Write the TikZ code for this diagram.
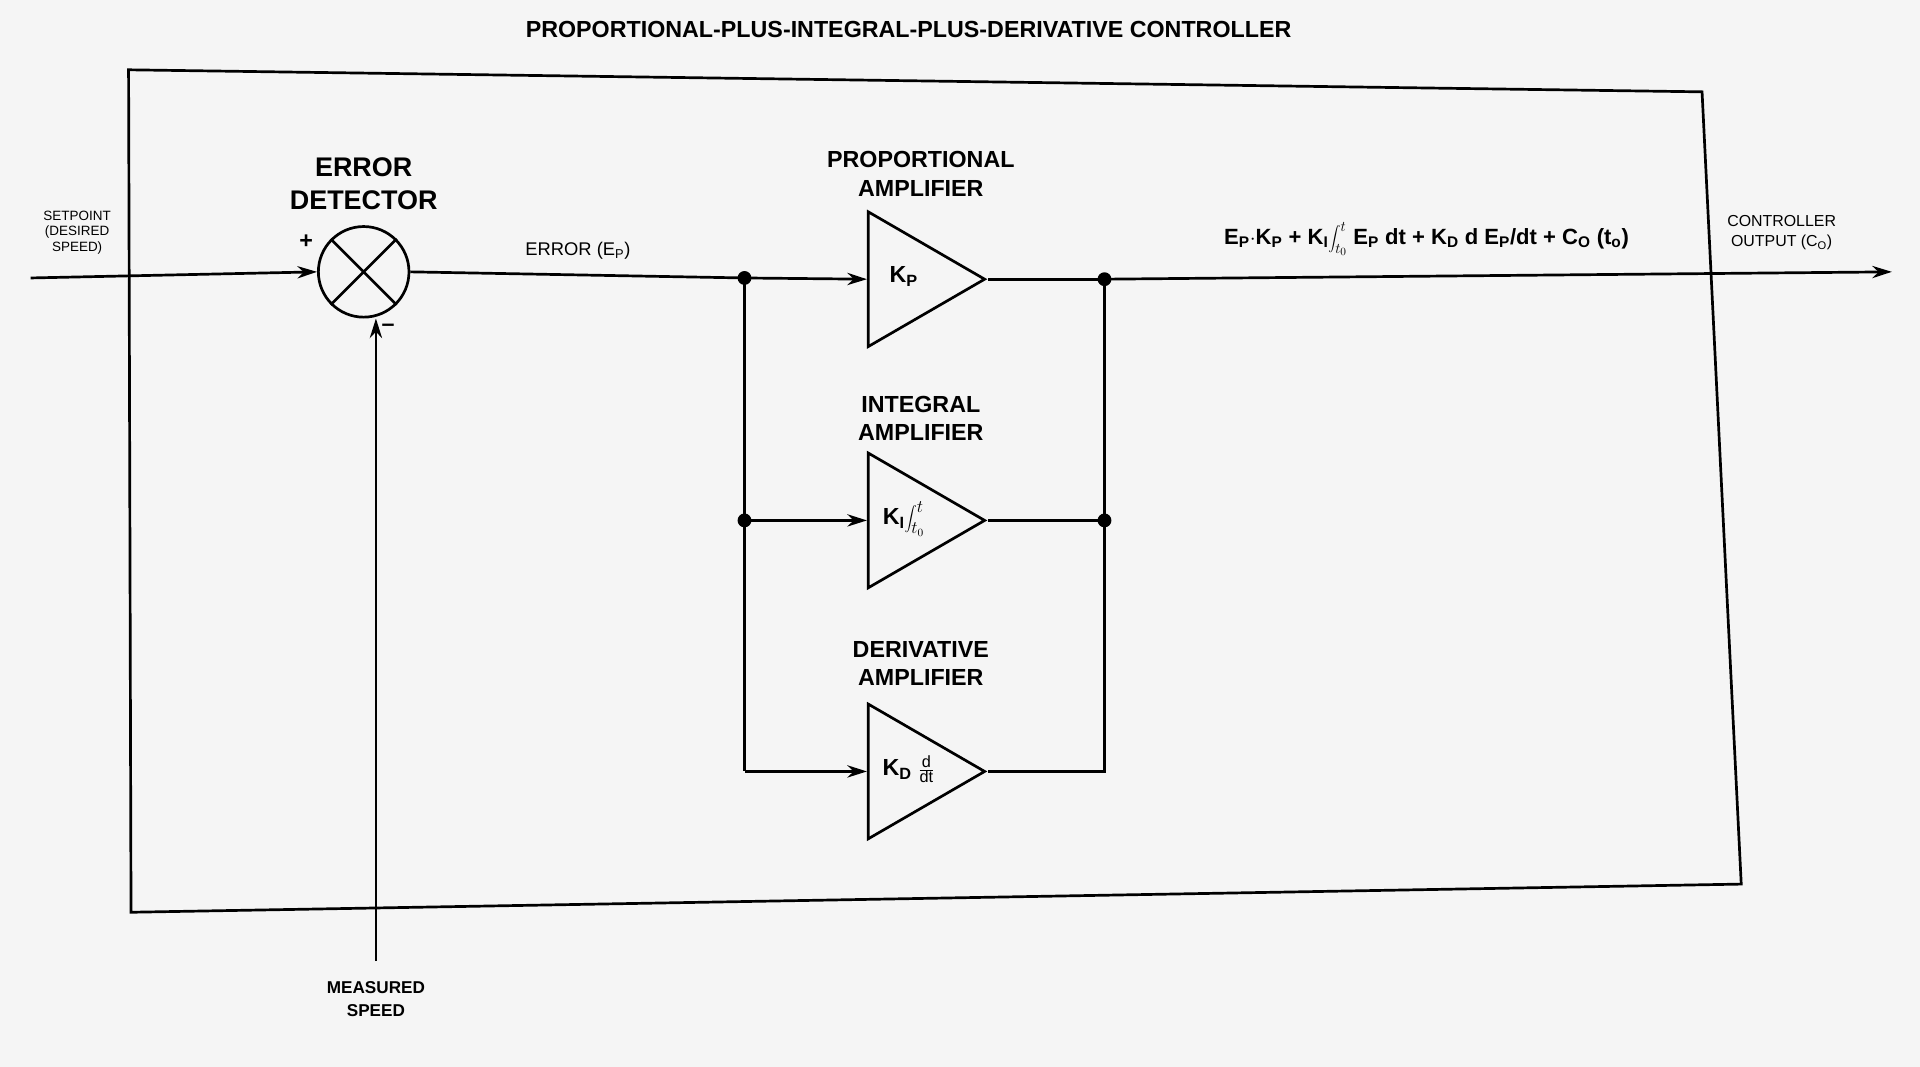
\documentclass[tikz,border=0pt]{standalone}
\usepackage{fontspec}
\setmainfont{Liberation Sans}
\usetikzlibrary{arrows.meta,shapes.geometric}
\begin{document}
\begin{tikzpicture}[x=1pt,y=-1pt,line width=2.2pt,
  lbl/.style={font=\bfseries\fontsize{19}{23}\selectfont,align=center,inner sep=0},
  sml/.style={font=\fontsize{11}{13}\selectfont,align=center,inner sep=0},
  amp/.style={isosceles triangle,draw,minimum height=95pt,minimum width=110pt,isosceles triangle stretches,inner sep=0,anchor=west},
  arr/.style={-{Stealth[length=16pt,width=10pt]}},
  dot/.style={circle,fill,inner sep=4pt}]
\fill[gray!8] (0,0) rectangle (1568,871);
\useasboundingbox (0,0) rectangle (1568,871);
\draw (105,57) -- (1390,75) -- (1422,722) -- (107,745) -- cycle;
\node[lbl,font=\bfseries\fontsize{19}{21}\selectfont] (title) at (742,24) {PROPORTIONAL-PLUS-INTEGRAL-PLUS-DERIVATIVE CONTROLLER};
\node[sml] (sp) at (63,190) {SETPOINT\\(DESIRED\\SPEED)};
\coordinate (in) at (25,227);
\node[circle,draw,minimum size=74pt,inner sep=0] (sum) at (297,222) {};
\draw (sum.45) -- (sum.225) (sum.135) -- (sum.315);
\node[lbl,font=\bfseries\fontsize{22}{27}\selectfont] (ed) at (297,150) {ERROR\\DETECTOR};
\node[lbl] (plus) at (250,197) {+};
\node[lbl] (minus) at (317,268) {--};
\draw[arr] (in) -- (sum.west);
\coordinate (ms) at (307,785);
\draw[arr] (ms) -- (sum.south -| ms);
\node[sml,font=\bfseries\fontsize{14}{19}\selectfont] (msl) at (307,816) {MEASURED\\SPEED};
\coordinate (j) at (608,227);
\draw (sum.east) -- (j);
\node[sml,font=\fontsize{15}{17}\selectfont] (err) at (472,205) {ERROR (E\textsubscript{P})};
\node[amp] (P) at (708,228) {};
\node[amp] (I) at (708,425) {};
\node[amp] (D) at (708,630) {};
\node[lbl] at (738,226) {K\textsubscript{P}};
\node[lbl] at (738,424) {K\textsubscript{I}$\displaystyle\int_{t_0}^{t}$};
\node[lbl] at (742,628) {K\textsubscript{D} $\frac{\mathrm{d}}{\mathrm{dt}}$};
\node[lbl] (pl) at (752,142) {PROPORTIONAL\\AMPLIFIER};
\node[lbl] (il) at (752,342) {INTEGRAL\\AMPLIFIER};
\node[lbl] (dl) at (752,542) {DERIVATIVE\\AMPLIFIER};
\coordinate (j2) at (608,425);
\coordinate (j3) at (608,630);
\draw (j) -- (j3);
\draw[arr] (j) -- (P.west);
\draw[arr] (j2) -- (I.west);
\draw[arr] (j3) -- (D.west);
\coordinate (o1) at (902,228);
\coordinate (o2) at (902,425);
\coordinate (o3) at (902,630);
\draw (P.apex) -- (o1) (I.apex) -- (o2) (D.apex) -- (o3) -- (o1);
\node[dot] at (j) {}; \node[dot] at (j2) {}; \node[dot] at (o1) {}; \node[dot] at (o2) {};
\coordinate (out) at (1545,222);
\draw[arr] (o1) -- (out);
\node[lbl,font=\bfseries\fontsize{18}{20}\selectfont] (eq) at (1165,195) {E\textsubscript{P}$\cdot$K\textsubscript{P} + K\textsubscript{I}$\displaystyle\int_{t_0}^{t}$ E\textsubscript{P} dt + K\textsubscript{D} d E\textsubscript{P}/dt + C\textsubscript{O} (t\textsubscript{o})};
\node[sml,font=\fontsize{13}{16}\selectfont] (co) at (1455,190) {CONTROLLER\\OUTPUT (C\textsubscript{O})};
\end{tikzpicture}
\end{document}
